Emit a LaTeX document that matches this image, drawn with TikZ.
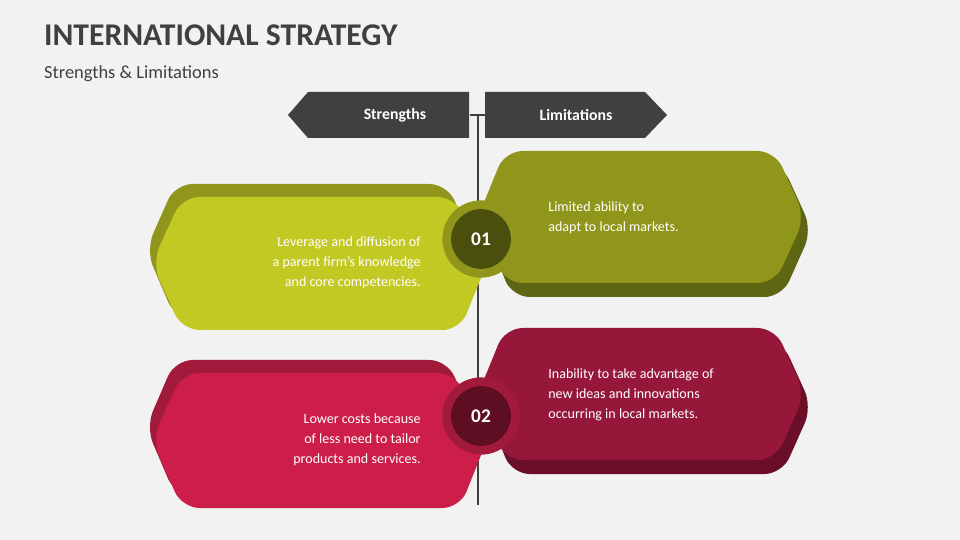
\documentclass[tikz,border=0pt]{standalone}
\usepackage{fontspec}
\setmainfont{Carlito}
\definecolor{bgc}{HTML}{F2F2F2}
\definecolor{darkc}{HTML}{404040}
\definecolor{limeA}{HTML}{C3C923}
\definecolor{oliveA}{HTML}{8F961B}
\definecolor{oliveB}{HTML}{5E6614}
\definecolor{oliveC}{HTML}{4A4F0E}
\definecolor{redA}{HTML}{CC1E48}
\definecolor{redB}{HTML}{A11A3B}
\definecolor{redC}{HTML}{96173A}
\definecolor{redD}{HTML}{6B0F28}
\definecolor{redE}{HTML}{5E0E22}
\begin{document}
\begin{tikzpicture}[x=0.02cm,y=-0.02cm]
\tikzset{hexbox/.style={rounded corners=10pt},
 txtbox/.style={text=white,font=\fontsize{8}{11.5}\selectfont,inner sep=0pt},
 headtxt/.style={text=white,font=\bfseries\fontsize{9}{10}\selectfont},
 ringnode/.style={circle,minimum size=44pt},
 coretxt/.style={circle,minimum size=34pt,text=white,font=\bfseries\fontsize{11}{12}\selectfont}}
\fill[bgc] (0,0) rectangle (960,540);
% title
\node (title) [anchor=west,text=darkc,font=\bfseries\fontsize{18}{20}\selectfont] at (38,35) {INTERNATIONAL STRATEGY};
\node (subtitle) [anchor=west,text=darkc,font=\fontsize{10.5}{12}\selectfont] at (38,74) {Strengths \& Limitations};
% headers
\fill[darkc] (288,115) -- (308,92) -- (469,92) -- (469,138) -- (308,138) -- cycle;
\fill[darkc] (485,92) -- (645,92) -- (667,115) -- (645,138) -- (485,138) -- cycle;
\node (hs) [headtxt] at (395,115) {Strengths};
\node (hl) [headtxt] at (576,115) {Limitations};
% axis
\draw[darkc,line width=1.7pt] (478,115) -- (478,505);
\draw[darkc,line width=1.7pt] (470,115) -- (486,115);
% row 1
\fill[oliveA,hexbox] (175,184) -- (447,184) -- (477,250) -- (452,318) -- (175,318) -- (146,250) -- cycle;
\fill[limeA,hexbox] (182,197) -- (455,197) -- (487,263) -- (460,330) -- (182,330) -- (152,263) -- cycle;
\fill[oliveB,hexbox] (512,164) -- (782,164) -- (812,230) -- (782,297) -- (512,297) -- (485,230) -- cycle;
\fill[oliveA,hexbox] (505,151) -- (775,151) -- (805,217) -- (775,283) -- (505,283) -- (478,217) -- cycle;
\node (ring1) [ringnode,fill=oliveA,drop shadow/.style={}] at (481,239) {};
\node (core1) [coretxt,fill=oliveC] at (ring1) {01};
\node (s1) [txtbox,anchor=north east,align=right] at (421,236) {Leverage and diffusion of\\a parent firm’s knowledge\\and core competencies.};
\node (l1) [txtbox,anchor=north west,align=left] at (548,201) {Limited ability to\\adapt to local markets.};
% row 2
\fill[redB,hexbox] (175,360) -- (447,360) -- (477,427) -- (452,495) -- (175,495) -- (146,427) -- cycle;
\fill[redA,hexbox] (182,373) -- (455,373) -- (487,440) -- (460,508) -- (182,508) -- (152,440) -- cycle;
\fill[redD,hexbox] (512,341) -- (782,341) -- (812,407) -- (782,474) -- (512,474) -- (485,407) -- cycle;
\fill[redC,hexbox] (505,328) -- (775,328) -- (805,394) -- (775,460) -- (505,460) -- (478,394) -- cycle;
\node (ring2) [ringnode,fill=redB] at (481,416) {};
\node (core2) [coretxt,fill=redE] at (ring2) {02};
\node (s2) [txtbox,anchor=north east,align=right] at (421,413) {Lower costs because\\of less need to tailor\\products and services.};
\node (l2) [txtbox,anchor=north west,align=left] at (548,368) {Inability to take advantage of\\new ideas and innovations\\occurring in local markets.};
\end{tikzpicture}
\end{document}
